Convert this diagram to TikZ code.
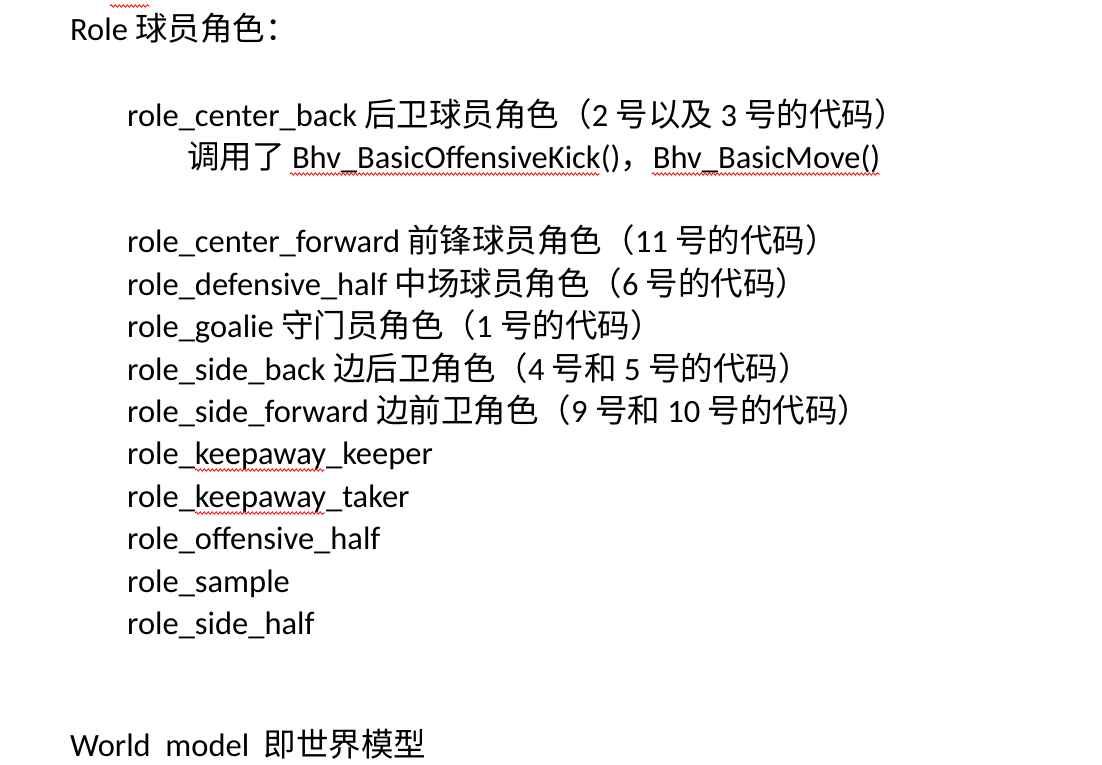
\documentclass[tikz,border=0pt]{standalone}
\usepackage{fontspec}
\setmainfont{Carlito}
\newfontfamily\cjk{Noto Sans CJK SC}
\usetikzlibrary{decorations.pathmorphing}
\begin{document}
\begin{tikzpicture}[x=1pt,y=-1pt,
  txt/.style={anchor=base west,inner sep=0pt,font=\fontsize{32.5}{36}\selectfont},
  wavy/.style={draw=red,line width=0.8pt,decorate,decoration={snake,amplitude=1.2pt,segment length=4pt}}]
\useasboundingbox (0,0) rectangle (1102,764);
\node[txt] (t0) at (70,40) {Role {\cjk 球员角色：}};
\node[txt] (t1) at (127,126) {role\_center\_back {\cjk 后卫球员角色（}2 {\cjk 号以及} 3 {\cjk 号的代码）}};
\node[txt] (t2) at (187,168) {{\cjk 调用了} Bhv\_BasicOffensiveKick(){\cjk ，}Bhv\_BasicMove()};
\node[txt] (t3) at (127,252) {role\_center\_forward {\cjk 前锋球员角色（}11 {\cjk 号的代码）}};
\node[txt] (t4) at (127,295) {role\_defensive\_half {\cjk 中场球员角色（}6 {\cjk 号的代码）}};
\node[txt] (t5) at (127,337) {role\_goalie {\cjk 守门员角色（}1 {\cjk 号的代码）}};
\node[txt] (t6) at (127,380) {role\_side\_back {\cjk 边后卫角色（}4 {\cjk 号和} 5 {\cjk 号的代码）}};
\node[txt] (t7) at (127,422) {role\_side\_forward {\cjk 边前卫角色（}9 {\cjk 号和} 10 {\cjk 号的代码）}};
\node[txt] (t8) at (127,464) {role\_keepaway\_keeper};
\node[txt] (t9) at (127,507) {role\_keepaway\_taker};
\node[txt] (t10) at (127,549) {role\_offensive\_half};
\node[txt] (t11) at (127,592) {role\_sample};
\node[txt] (t12) at (127,634) {role\_side\_half};
\node[txt] (t13) at (70,756) {World\ \ model\ \ {\cjk 即世界模型}};
\draw[wavy] (110,6) -- (150,6);
\draw[wavy] (290,174) -- (600,174);
\draw[wavy] (652,174) -- (880,174);
\draw[wavy] (195,470) -- (325,470);
\draw[wavy] (195,513) -- (325,513);
\end{tikzpicture}
\end{document}
